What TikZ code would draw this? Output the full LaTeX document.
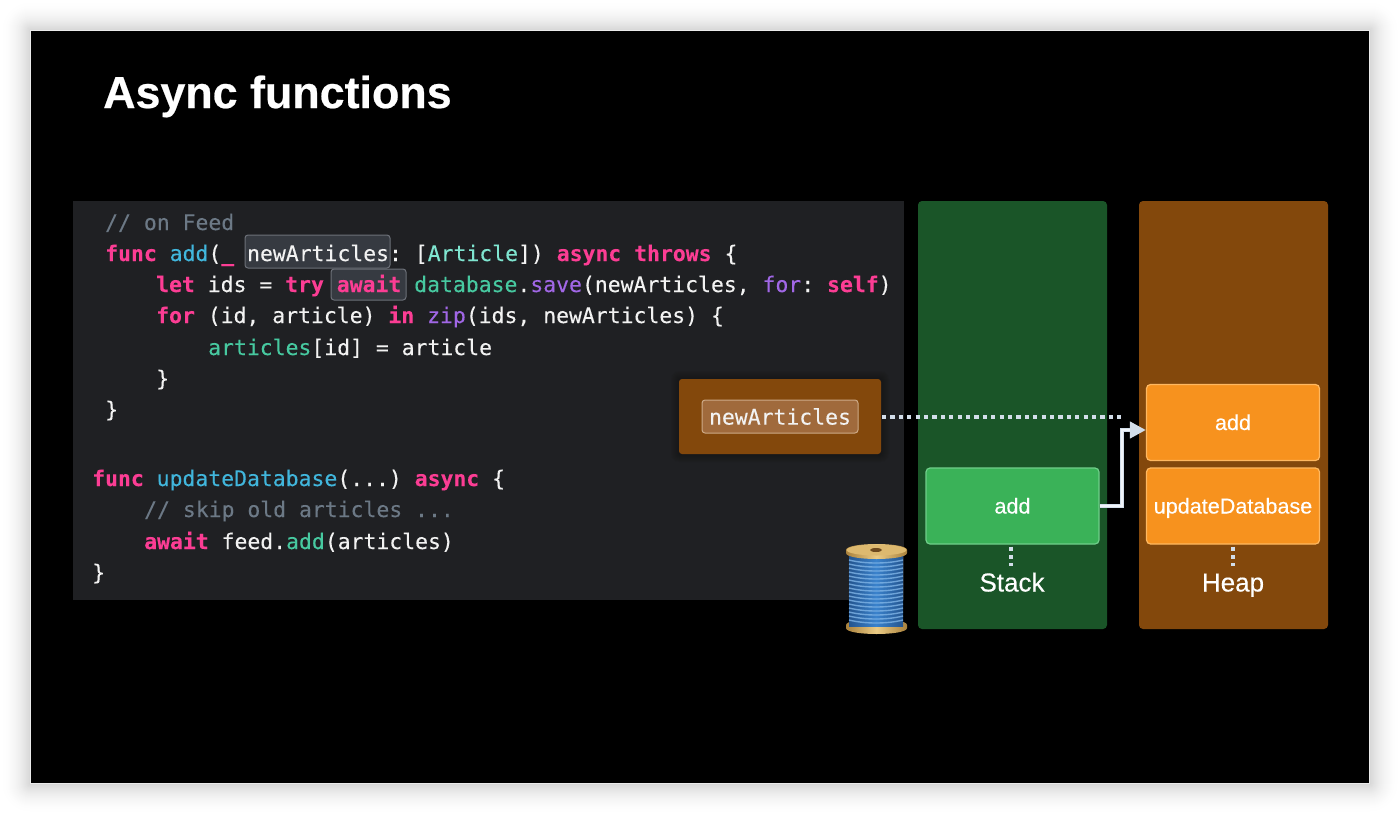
\documentclass[tikz,border=0pt]{standalone}
\usepackage{fontspec}
\setmainfont{Liberation Sans}
\newfontfamily\codefont[FakeBold=0.15]{DejaVu Sans Mono}
\newfontfamily\labelfont[FakeBold=0.35]{Liberation Sans}
\newfontfamily\titlefont[FakeBold=0.5]{Liberation Sans Bold}
\usetikzlibrary{arrows.meta}
\definecolor{kw}{HTML}{FC3D94}
\definecolor{fn}{HTML}{41B6DC}
\definecolor{ty}{HTML}{7FE5D0}
\definecolor{tl}{HTML}{47C9A0}
\definecolor{pu}{HTML}{A167E6}
\definecolor{cm}{HTML}{6C7986}
\definecolor{tx}{HTML}{F2F2F2}
\definecolor{panel}{HTML}{1F2023}
\definecolor{hlfill}{HTML}{363A41}
\definecolor{hldraw}{HTML}{6C7078}
\definecolor{popbrown}{HTML}{83480C}
\definecolor{popin}{HTML}{A06A3C}
\definecolor{popdraw}{HTML}{CDAA88}
\definecolor{stackcol}{HTML}{1A5528}
\definecolor{grn}{HTML}{3AB258}
\definecolor{grnb}{HTML}{6FCF8A}
\definecolor{org}{HTML}{F7921E}
\definecolor{orgb}{HTML}{FFB860}
\definecolor{lnk}{HTML}{D3DEEA}
\definecolor{lnkin}{HTML}{F0F4F9}
\definecolor{woodd}{HTML}{A9813C}
\definecolor{woodl}{HTML}{EBCB85}
\definecolor{woodt}{HTML}{DDB96F}
\definecolor{hole}{HTML}{6E4A1E}
\definecolor{threadd}{HTML}{24558F}
\definecolor{threadm}{HTML}{3A82CC}
\definecolor{threadl}{HTML}{7FB4E6}
\newcommand{\K}[1]{\textcolor{kw}{\bfseries #1}}
\newcommand{\F}[1]{\textcolor{fn}{#1}}
\newcommand{\Y}[1]{\textcolor{ty}{#1}}
\newcommand{\T}[1]{\textcolor{tl}{#1}}
\newcommand{\PP}[1]{\textcolor{pu}{#1}}
\newcommand{\C}[1]{\textcolor{cm}{#1}}
\tikzset{
  x=1pt,y=-1pt,
  code/.style={anchor=base west,inner sep=0pt,text=tx,font=\codefont\fontsize{21.43}{24}\selectfont\frenchspacing},
  hilite/.style={draw=hldraw,fill=hlfill,line width=1pt,rounded corners=3pt,inner sep=0pt},
  column/.style={rounded corners=4pt,inner sep=0pt,minimum width=189pt,minimum height=428pt},
  frame/.style={rounded corners=4pt,inner sep=0pt,line width=1.2pt,minimum width=173pt,minimum height=76pt,text=white,text height=16pt,text depth=1pt,font=\labelfont\fontsize{21.6}{24}\selectfont},
  collabel/.style={text=white,inner sep=0pt,anchor=base,font=\labelfont\fontsize{26}{30}\selectfont},
  dots/.style={draw=lnk,line width=4.5pt,dash pattern=on 4.2pt off 4.2pt}
}
\begin{document}
\begin{tikzpicture}
\useasboundingbox (0,0) rectangle (1400,814);
\fill[white] (0,0) rectangle (1400,814);
% soft shadow of the slide
\foreach \i in {30,29,...,1}{
  \pgfmathsetmacro{\g}{16*((31-\i)/30)*((31-\i)/30)}
  \fill[black!\g!white,rounded corners=\i pt] (31-\i,31-\i) rectangle (1369+\i,783+\i);
}
\draw[black!8,line width=1pt] (30.5,30.5) rectangle (1369.5,783.5);
\fill[black] (31,31) rectangle (1369,783);
\node[anchor=base west,inner sep=0pt,text=white,font=\titlefont\fontsize{44.8}{54}\selectfont] (title) at (103,108) {Async functions};

% code panel
\fill[panel] (73,201) rectangle (904,600);
\node[hilite,minimum width=145pt,minimum height=33pt] (h1) at (317.5,251.5) {};
\node[hilite,minimum width=75pt,minimum height=31pt] (h2) at (368.5,284.5) {};
\node[code] (l1) at (105,230) {\C{// on Feed}};
\node[code] (l2) at (105,261) {\K{func} \F{add}(\K{\_} newArticles: [\Y{Article}]) \K{async} \K{throws} \{};
\node[code] (l3) at (156,292) {\K{let} ids = \K{try} \K{await} \T{database}.\PP{save}(newArticles, \PP{for}: \K{self})};
\node[code] (l4) at (156,323) {\K{for} (id, article) \K{in} \PP{zip}(ids, newArticles) \{};
\node[code] (l5) at (208,355) {\T{articles}[id] = article};
\node[code] (l6) at (156,386) {\}};
\node[code] (l7) at (105,417) {\}};
\node[code] (l8) at (92,486) {\K{func} \F{updateDatabase}(...) \K{async} \{};
\node[code] (l9) at (144,517) {\C{// skip old articles ...}};
\node[code] (l10) at (144,549) {\K{await} feed.\T{add}(articles)};
\node[code] (l11) at (92,580) {\}};

% columns
\node[column,fill=stackcol] (stack) at (1012.5,415) {};
\node[column,fill=popbrown] (heap) at (1233.5,415) {};

% popup
\foreach \i in {1,...,8}{
  \fill[black,opacity=0.03,rounded corners=\i pt] (679-\i,379-\i) rectangle (881+\i,454+\i);
}
\node[fill=popbrown,rounded corners=3pt,inner sep=0pt,minimum width=202pt,minimum height=75pt] (popup) at (780,416.5) {};
\node[draw=popdraw,fill=popin,line width=1pt,rounded corners=3pt,inner sep=0pt,minimum width=156pt,minimum height=33pt,text=tx,font=\codefont\fontsize{21.43}{24}\selectfont] (pvar) at (780,416.5) {newArticles};

% frames
\node[frame,fill=grn,draw=grnb] (sadd) at (1012.5,506) {add};
\node[frame,fill=org,draw=orgb] (hadd) at (1233,422.5) {add};
\node[frame,fill=org,draw=orgb] (hupd) at (1233,506) {updateDatabase};

% labels
\node[collabel] (slabel) at (1012,591.5) {Stack};
\node[collabel] (hlabel) at (1233,591.5) {Heap};

% dotted connectors
\coordinate (dotstart) at (882,417);
\coordinate (dotend) at (1122,417);
\draw[dots] (dotstart) -- (dotend);
\coordinate (sdot) at (1011,566);
\coordinate (hdot) at (1233,566);
\draw[dots] (sadd.south -| sdot) ++(0,2) -- (sdot);
\draw[dots] (hupd.south -| hdot) ++(0,2) -- (hdot);

% link
\coordinate (bend1) at (1122,506);
\coordinate (bend2) at (1122,430);
\draw[lnk,line width=4.5pt,-{Triangle[length=16pt,width=16pt]}] (sadd.east) -- (bend1) -- (bend2) -- (bend2 -| hadd.west);
\draw[lnkin,line width=1.4pt] (sadd.east) -- (bend1) -- (bend2) -- (1130,430);

% spool
\shade[left color=woodd,right color=woodd,middle color=woodl] (846,625) -- (846,628) .. controls (846,636) and (907,636) .. (907,628) -- (907,625) .. controls (907,617) and (846,617) .. cycle;
\shade[left color=threadd,right color=threadd,middle color=threadm] (849,556) rectangle (903,626);
\foreach \y in {560,564,...,620}{
  \draw[threadl,line width=1.4pt,opacity=.8] (849,\y) .. controls (865,\y+4) and (887,\y+4) .. (903,\y);
}
\shade[left color=woodd,right color=woodd,middle color=woodl] (846,550) -- (846,553) .. controls (846,561) and (907,561) .. (907,553) -- (907,550) .. controls (907,542) and (846,542) .. cycle;
\fill[woodt] (876.5,550) ellipse[x radius=30,y radius=5.5];
\fill[hole] (876,550) ellipse[x radius=6,y radius=2];
\end{tikzpicture}
\end{document}
